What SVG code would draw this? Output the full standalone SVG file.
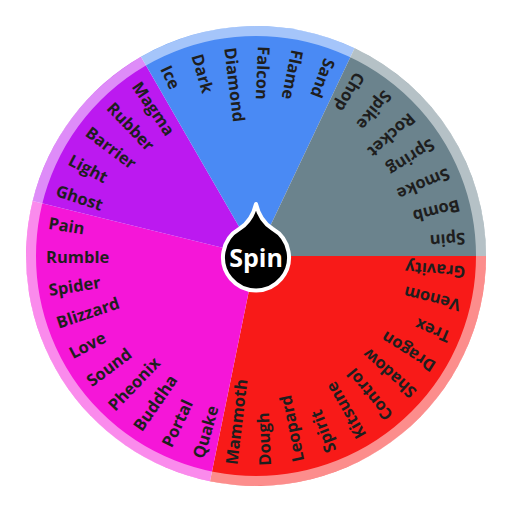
<svg xmlns="http://www.w3.org/2000/svg" width="512" height="512" viewBox="0 0 512 512">
<style>
.lbl{font-family:"Open Sans","Liberation Sans",sans-serif;font-weight:700;font-size:16.5px;fill:#1e1e1e;dominant-baseline:central}
.spin{font-family:"Open Sans","Liberation Sans",sans-serif;font-weight:700;font-size:25px;fill:#ffffff;text-anchor:middle;dominant-baseline:central}
</style>
<rect width="512" height="512" fill="#ffffff"/>
<g id="wheel">
<path id="red" d="M256 256 L486 256 A230 230 0 0 1 210 481.3 Z" fill="#f81a18"/>
<path id="pink" d="M256 256 L210 481.3 A230 230 0 0 1 32.7 200.96 Z" fill="#f516d8"/>
<path id="purple" d="M256 256 L32.7 200.96 A230 230 0 0 1 141 56.8 Z" fill="#bc19f0"/>
<path id="blue" d="M256 256 L141 56.8 A230 230 0 0 1 354.6 48.2 Z" fill="#4a8af4"/>
<path id="gray" d="M256 256 L354.6 48.2 A230 230 0 0 1 486 256 Z" fill="#6b838d"/>
<circle cx="256" cy="256" r="225" fill="none" stroke="#ffffff" stroke-opacity="0.5" stroke-width="10"/>
</g>
<g id="labels">
<text class="lbl" x="46" y="256" transform="rotate(184.615 256 256)">Gravity</text>
<text class="lbl" x="46" y="256" transform="rotate(193.846 256 256)">Venom</text>
<text class="lbl" x="46" y="256" transform="rotate(203.077 256 256)">Trex</text>
<text class="lbl" x="46" y="256" transform="rotate(212.308 256 256)">Dragon</text>
<text class="lbl" x="46" y="256" transform="rotate(221.538 256 256)">Shadow</text>
<text class="lbl" x="46" y="256" transform="rotate(230.769 256 256)">Control</text>
<text class="lbl" x="46" y="256" transform="rotate(240 256 256)">Kitsune</text>
<text class="lbl" x="46" y="256" transform="rotate(249.231 256 256)">Spirit</text>
<text class="lbl" x="46" y="256" transform="rotate(258.462 256 256)">Leopard</text>
<text class="lbl" x="46" y="256" transform="rotate(267.692 256 256)">Dough</text>
<text class="lbl" x="46" y="256" transform="rotate(276.923 256 256)">Mammoth</text>
<text class="lbl" x="46" y="256" transform="rotate(286.154 256 256)">Quake</text>
<text class="lbl" x="46" y="256" transform="rotate(295.385 256 256)">Portal</text>
<text class="lbl" x="46" y="256" transform="rotate(304.615 256 256)">Buddha</text>
<text class="lbl" x="46" y="256" transform="rotate(313.846 256 256)">Pheonix</text>
<text class="lbl" x="46" y="256" transform="rotate(323.077 256 256)">Sound</text>
<text class="lbl" x="46" y="256" transform="rotate(332.308 256 256)">Love</text>
<text class="lbl" x="46" y="256" transform="rotate(341.538 256 256)">Blizzard</text>
<text class="lbl" x="46" y="256" transform="rotate(350.769 256 256)">Spider</text>
<text class="lbl" x="46" y="256">Rumble</text>
<text class="lbl" x="46" y="256" transform="rotate(9.231 256 256)">Pain</text>
<text class="lbl" x="46" y="256" transform="rotate(18.462 256 256)">Ghost</text>
<text class="lbl" x="46" y="256" transform="rotate(27.692 256 256)">Light</text>
<text class="lbl" x="46" y="256" transform="rotate(36.923 256 256)">Barrier</text>
<text class="lbl" x="46" y="256" transform="rotate(46.154 256 256)">Rubber</text>
<text class="lbl" x="46" y="256" transform="rotate(55.385 256 256)">Magma</text>
<text class="lbl" x="46" y="256" transform="rotate(64.615 256 256)">Ice</text>
<text class="lbl" x="46" y="256" transform="rotate(73.846 256 256)">Dark</text>
<text class="lbl" x="46" y="256" transform="rotate(83.077 256 256)">Diamond</text>
<text class="lbl" x="46" y="256" transform="rotate(92.308 256 256)">Falcon</text>
<text class="lbl" x="46" y="256" transform="rotate(101.538 256 256)">Flame</text>
<text class="lbl" x="46" y="256" transform="rotate(110.769 256 256)">Sand</text>
<text class="lbl" x="46" y="256" transform="rotate(120 256 256)">Chop</text>
<text class="lbl" x="46" y="256" transform="rotate(129.231 256 256)">Spike</text>
<text class="lbl" x="46" y="256" transform="rotate(138.462 256 256)">Rocket</text>
<text class="lbl" x="46" y="256" transform="rotate(147.692 256 256)">Spring</text>
<text class="lbl" x="46" y="256" transform="rotate(156.923 256 256)">Smoke</text>
<text class="lbl" x="46" y="256" transform="rotate(166.154 256 256)">Bomb</text>
<text class="lbl" x="46" y="256" transform="rotate(175.385 256 256)">Spin</text>
</g>
<g id="spin-button">
<path d="M256 204 Q260 221 272.5 228.8 A33 33 0 1 1 239.5 228.8 Q252 221 256 204 Z" fill="#000000" stroke="#ffffff" stroke-width="4" stroke-linejoin="round"/>
<text class="spin" x="256" y="257">Spin</text>
</g>
</svg>
